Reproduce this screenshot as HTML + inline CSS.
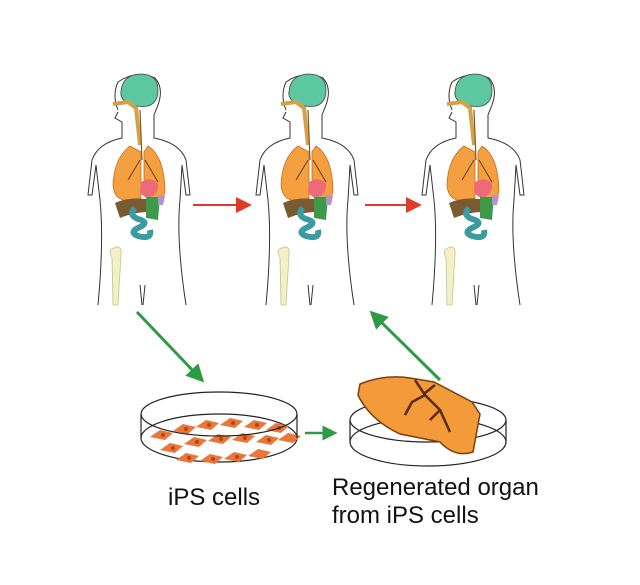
<!DOCTYPE html>
<html><head><style>
html,body{margin:0;padding:0;background:#fff;}
svg{display:block;}
text{font-family:"Liberation Sans",sans-serif;fill:#111;}
</style></head><body>
<svg width="640" height="585" viewBox="0 0 640 585" xmlns="http://www.w3.org/2000/svg">
<defs>
<marker id="ar" markerWidth="8" markerHeight="8" refX="5" refY="4" orient="auto" markerUnits="strokeWidth"><path d="M0,0 L8,4 L0,8 z" fill="#e23a2a"/></marker>
<marker id="ag" markerWidth="6" markerHeight="6" refX="3" refY="3" orient="auto" markerUnits="strokeWidth"><path d="M0,0 L6,3 L0,6 z" fill="#2f9a45"/></marker>
<g id="body">
 <path d="M118,110 Q112,95 118,82 Q135,70 155,78 Q164,88 158,105 L154,115 L154,138 Q180,143 186,160 L190,195 L186,195 L182,165 L180,200 Q176,240 186,305 M118,112 L115,118 L122,122 L122,138 Q98,143 92,160 L88,195 L92,195 L96,165 L100,200 Q104,240 98,305" fill="none" stroke="#333" stroke-width="1"/>
 <path d="M140,285 L142,305 M145,285 L143,305" stroke="#333" stroke-width="1"/>
 <path d="M121,92 Q122,75 140,74 Q158,74 158,90 Q158,103 148,106 Q136,108 126,102 Q120,98 121,92z" fill="#5cc7a0" stroke="#444" stroke-width="0.8"/>
 <path d="M113,104 L128,102 L136,108 L140,145" fill="none" stroke="#d4a04a" stroke-width="4"/>
 <path d="M140,110 L142,160" stroke="#7a5a20" stroke-width="1.2"/>
 <path d="M130,146 Q114,158 113,185 Q114,202 132,201 L141,198 L141,152 Z" fill="#f5a040" stroke="#c96b20" stroke-width="0.8"/>
 <path d="M148,146 Q164,156 165,190 Q164,202 155,200 L144,196 L144,152 Z" fill="#f5a040" stroke="#c96b20" stroke-width="0.8"/>
 <path d="M140,160 L128,180 M145,160 L158,182" stroke="#6b3a10" stroke-width="1"/>
 <path d="M141,182 Q152,176 158,184 Q158,196 149,197 Q140,196 140,190 Z" fill="#ee6a78"/>
 <path d="M115,203 Q130,196 152,200 L148,212 Q135,212 120,218 Z" fill="#7a5a30"/>
 <path d="M146,197 L160,197 L158,220 L146,218 Z" fill="#3e9a4a"/>
 <path d="M158,195 L165,196 L163,205 L158,205Z" fill="#b891c7"/>
 <path d="M135,208 Q128,215 138,219 Q150,222 140,227 Q128,232 138,236 Q152,240 150,230" fill="none" stroke="#3a9ba0" stroke-width="6"/>
 <path d="M114,248 Q122,244 121,255 L118,305 L113,305 L112,258 Q108,250 114,248Z" fill="#f3f0c8" stroke="#c8c28a" stroke-width="0.8"/>
</g>
</defs>
<use href="#body"/>
<use href="#body" x="168"/>
<use href="#body" x="334"/>
<line x1="193" y1="205" x2="246" y2="205" stroke="#e23a2a" stroke-width="2" marker-end="url(#ar)"/>
<line x1="365" y1="205" x2="416" y2="205" stroke="#e23a2a" stroke-width="2" marker-end="url(#ar)"/>
<line x1="137" y1="312" x2="198" y2="376" stroke="#2f9a45" stroke-width="3" marker-end="url(#ag)"/>
<line x1="440" y1="380" x2="376" y2="317" stroke="#2f9a45" stroke-width="3" marker-end="url(#ag)"/>
<line x1="305" y1="433" x2="330" y2="433" stroke="#2f9a45" stroke-width="2.5" marker-end="url(#ag)"/>
<!-- left dish -->
<ellipse cx="219" cy="438" rx="78" ry="24" fill="#fff" stroke="#222" stroke-width="1.2"/>
<g fill="#e9773a">
<path d="M150,437 l10,-7 l13,3 l-8,7 z"/><path d="M173,431 l10,-7 l13,3 l-8,7 z"/><path d="M196,427 l10,-7 l13,3 l-8,7 z"/><path d="M220,425 l10,-7 l13,3 l-8,7 z"/><path d="M244,427 l10,-7 l13,3 l-8,7 z"/><path d="M266,430 l10,-7 l13,3 l-8,7 z"/>
<path d="M160,450 l10,-7 l13,3 l-8,7 z"/><path d="M184,444 l10,-7 l13,3 l-8,7 z"/><path d="M208,441 l10,-7 l13,3 l-8,7 z"/><path d="M232,440 l10,-7 l13,3 l-8,7 z"/><path d="M256,442 l10,-7 l13,3 l-8,7 z"/><path d="M278,440 l10,-7 l13,3 l-8,7 z"/>
<path d="M176,460 l10,-7 l13,3 l-8,7 z"/><path d="M200,461 l10,-7 l13,3 l-8,7 z"/><path d="M224,459 l10,-7 l13,3 l-8,7 z"/><path d="M248,456 l10,-7 l13,3 l-8,7 z"/>
</g>
<g fill="#b5451a"><circle cx="163" cy="435" r="2"/><circle cx="186" cy="429" r="2"/><circle cx="209" cy="425" r="2"/><circle cx="233" cy="423" r="2"/><circle cx="257" cy="425" r="2"/><circle cx="279" cy="428" r="2"/><circle cx="173" cy="448" r="2"/><circle cx="197" cy="442" r="2"/><circle cx="221" cy="439" r="2"/><circle cx="245" cy="438" r="2"/><circle cx="269" cy="440" r="2"/><circle cx="189" cy="458" r="2"/><circle cx="213" cy="459" r="2"/><circle cx="237" cy="457" r="2"/></g>
<path d="M141,414 L141,438 M297,414 L297,438" stroke="#222" stroke-width="1.2"/>
<ellipse cx="219" cy="414" rx="78" ry="22" fill="none" stroke="#222" stroke-width="1.2"/>
<!-- right dish -->
<ellipse cx="428" cy="442" rx="78" ry="24" fill="#fff" stroke="#222" stroke-width="1.2"/>
<path d="M350,420 L350,442 M506,420 L506,442" stroke="#222" stroke-width="1.2"/>
<ellipse cx="428" cy="420" rx="78" ry="22" fill="none" stroke="#222" stroke-width="1.2"/>
<path d="M360,384 Q385,374 410,378 L434,382 L472,402 L480,414 L473,452 Q455,458 440,442 L400,434 Q370,420 358,395 Z" fill="#f39a3a" stroke="#7a4010" stroke-width="1.5"/>
<path d="M415,380 L425,395 L440,410 L450,432 M425,395 L412,402 L405,415 M440,410 L430,420 M425,393 L435,385" fill="none" stroke="#5a2a08" stroke-width="2.5"/>
<text x="168" y="505" font-size="24">iPS cells</text>
<text x="332" y="495" font-size="24">Regenerated organ</text>
<text x="332" y="523" font-size="24">from iPS cells</text>
</svg>
</body></html>
